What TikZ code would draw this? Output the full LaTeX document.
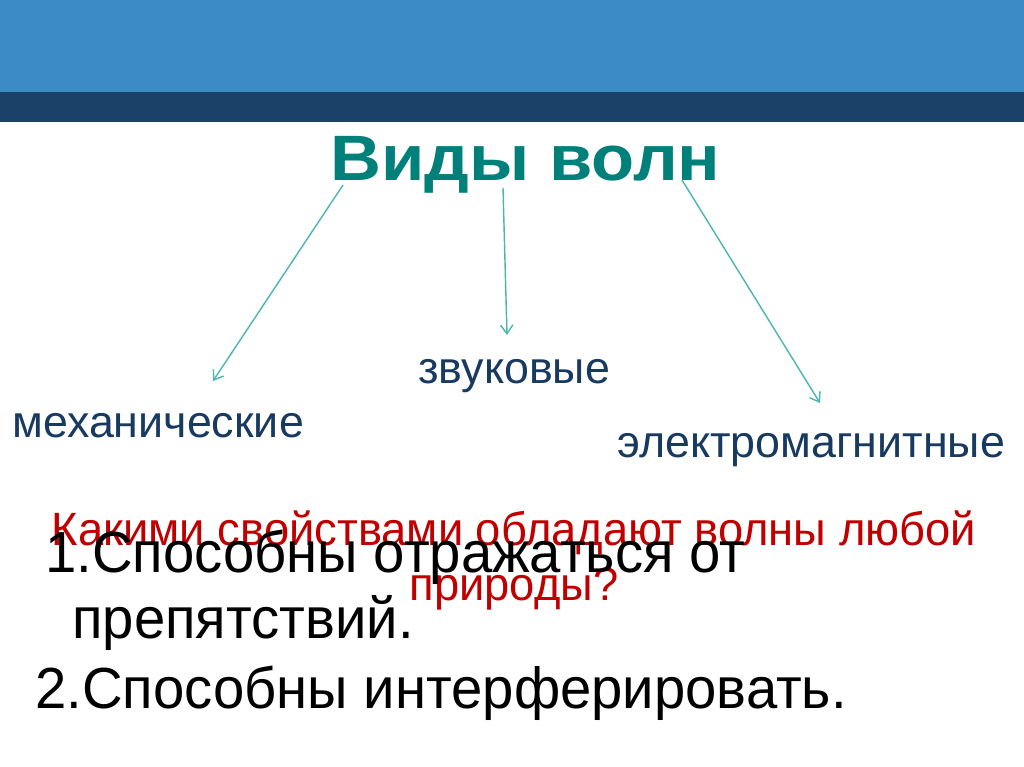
\documentclass[tikz,border=0pt]{standalone}
\usepackage{fontspec}
\setmainfont{Liberation Sans}
\newfontfamily\answerfont[FakeStretch=0.97]{Liberation Sans}
\newfontfamily\titlefont[FakeStretch=1.1]{Liberation Sans}
\usetikzlibrary{arrows.meta}
\definecolor{barblue}{RGB}{60,138,198}
\definecolor{bardark}{RGB}{26,66,104}
\definecolor{titleteal}{RGB}{0,128,122}
\definecolor{arrowteal}{RGB}{75,181,176}
\definecolor{labelnavy}{RGB}{24,58,96}
\definecolor{questred}{RGB}{192,0,0}

\begin{document}
\begin{tikzpicture}[x=0.02cm, y=-0.02cm,
    kind/.style={text=labelnavy, font=\fontsize{25.5}{30}\selectfont, inner sep=0pt, anchor=base west},
    answer/.style={font=\answerfont\fontsize{33}{40}\selectfont, inner sep=0pt, anchor=base west},
    wavearrow/.style={draw=arrowteal, line width=0.8pt, -{Straight Barb[length=5pt,width=7pt]}}]
  \useasboundingbox (0,0) rectangle (1024,767);
  % header bars
  \fill[barblue] (0,0) rectangle (1024,92);
  \fill[bardark] (0,92) rectangle (1024,122);

  \node[text=titleteal, font=\titlefont\fontsize{36.5}{40}\bfseries, inner sep=0pt, anchor=base west] (title) at (330,180) {Виды волн};

  \node[kind] (mech) at (12,437) {механические};
  \node[kind] (sound) at (418,383) {звуковые};
  \node[kind] (em) at (617,457) {электромагнитные};

  \coordinate (m1) at (343,185);
  \coordinate (m2) at (213,381);
  \coordinate (s1) at (503,188);
  \coordinate (s2) at (507,335);
  \coordinate (e1) at (682,180);
  \coordinate (e2) at (820,403);
  \draw[wavearrow] (m1) -- (m2);
  \draw[wavearrow] (s1) -- (s2);
  \draw[wavearrow] (e1) -- (e2);

  % question behind the answers
  \node[text=questred, font=\answerfont\fontsize{26.6}{31}\selectfont, align=center, inner sep=0pt, anchor=base] (quest) at (514,600)
    {Какими свойствами обладают волны любой\\природы?};

  \node[answer] (ans1) at (45,572) {1.Способны отражаться от};
  \node[answer] (ans1b) at (72,638) {препятствий.};
  \node[answer] (ans2) at (35,708) {2.Способны интерферировать.};
\end{tikzpicture}
\end{document}
